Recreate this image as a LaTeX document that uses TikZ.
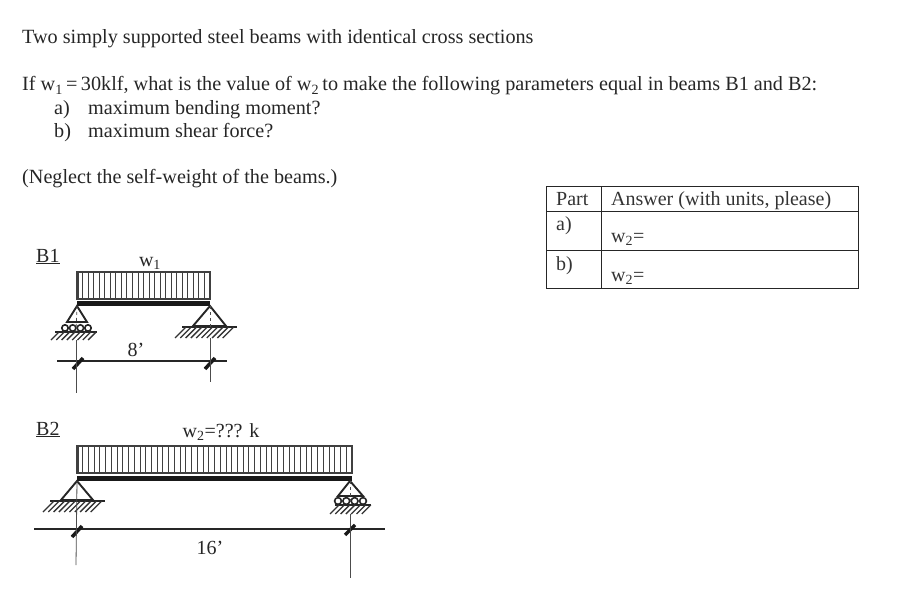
\documentclass[tikz,border=0pt]{standalone}
\usepackage{fontspec}
\setmainfont{Liberation Serif}
\newcommand{\wsub}[1]{w\textsubscript{#1}}
\tikzset{
  txt/.style={anchor=base west,inner sep=0pt,text=black!85,font=\fontsize{20.2}{23}\selectfont},
  lbl/.style={anchor=base,inner sep=0pt,text=black!85,font=\fontsize{20}{23}\selectfont},
  tbl/.style={anchor=base west,inner sep=0pt,text=black!80,font=\fontsize{20}{23}\selectfont},
  tline/.style={draw=black!85,line width=1pt},
  load/.style={draw=black!75,line width=0.9pt},
  beamline/.style={draw=black!90,line width=5pt},
  sup/.style={draw=black!85,line width=1.9pt},
  ground/.style={draw=black!85,line width=1.8pt},
  hatchline/.style={draw=black!80,line width=1.3pt},
  dim/.style={draw=black!85,line width=1.3pt},
  ext/.style={draw=black!70,line width=0.8pt},
  tick/.style={draw=black!90,line width=3.5pt},
  roller/.style={draw=black!85,line width=1.6pt,fill=white}
}
% x1, x2, ground y, hatch depth
\newcommand{\gnd}[4]{%
  \draw[ground] (#1,#3) -- (#2,#3);
  \pgfmathtruncatemacro{\nh}{(#2-#1-4)/5.3}
  \foreach \k in {0,...,\nh}{%
    \pgfmathsetmacro{\hx}{#1+4+5.3*\k}
    \draw[hatchline] (\hx,#3) -- (\hx-#4,#3+#4);
  }
}
% x1, x2, top, bottom, count of inner lines
\newcommand{\loadblock}[5]{%
  \draw[load,line width=1.3pt] (#1,#4) -- (#1,#3) -- (#2,#3) -- (#2,#4) -- cycle;
  \draw[load,line width=1.6pt] (#1+1,#3) -- (#1+1,#4);
  \foreach \i in {1,...,#5}{%
    \pgfmathsetmacro{\xx}{#1+(#2-#1)*\i/(#5+1)}
    \draw[load] (\xx,#3) -- (\xx,#4);
  }
}
\begin{document}
\begin{tikzpicture}[x=1pt,y=-1pt]
\useasboundingbox (0,0) rectangle (899,604);
% question text
\node[txt] (t1) at (22,44) {Two simply supported steel beams with identical cross sections};
\node[txt] (t2) at (22,91) {If \wsub{1}\,=\,30klf, what is the value of \wsub{2}\,to make the following parameters equal in beams B1 and B2:};
\node[txt] (t3) at (54,115) {\makebox[34pt][l]{a)}maximum bending moment?};
\node[txt] (t4) at (54,138) {\makebox[34pt][l]{b)}maximum shear force?};
\node[txt] (t5) at (22,184) {(Neglect the self-weight of the beams.)};
% table
\draw[tline] (546,187) rectangle (858,288);
\draw[tline] (546,211) -- (858,211);
\draw[tline] (546,250) -- (858,250);
\draw[tline] (601,187) -- (601,288);
\node[tbl] (p) at (556,206) {Part};
\node[tbl] (ans) at (611,206) {Answer (with units, please)};
\node[tbl] (pa) at (556,230) {a)};
\node[tbl] (pb) at (556,270) {b)};
\node[tbl] (wa) at (611,242) {\wsub{2}=};
\node[tbl] (wb) at (611,281) {\wsub{2}=};
% B1
\node[lbl,anchor=base west] (b1) at (36,262) {\underline{B1}};
\node[lbl] (w1) at (150,266) {\wsub{1}};
\loadblock{77}{210}{272}{299}{23}
\draw[beamline] (77,303.5) -- (210,303.5);
\coordinate (a1) at (77,306);
\coordinate (a2) at (210,306);
\draw[sup] (a1) -- (67,322) -- (87,322) -- cycle;
\foreach \c in {65,72.7,80.4,88}{\draw[roller] (\c,328) circle (3.2);}
\gnd{55}{97}{332}{8}
\draw[sup] (a2) -- (193,326) -- (226,326) -- cycle;
\gnd{182}{237}{327}{11}
\coordinate (d1l) at (57,361);
\coordinate (d1r) at (227,361);
\draw[dim] (d1l) -- (d1r);
\node[lbl] (s8) at (136,356) {8’};
\draw[tick] (73,369) -- (83,358);
\draw[tick] (205,369) -- (215,358);
\draw[ext,dashed] (a1) -- (76,332);
\draw[ext] (76,340) -- (76,393);
\draw[ext,dashed] (a2) -- (210,327);
\draw[ext] (210,338) -- (210,382);
% B2
\node[lbl,anchor=base west] (b2) at (36,435) {\underline{B2}};
\node[lbl] (w2) at (221,437) {\wsub{2}=??? k};
\loadblock{77}{352}{446}{473}{47}
\draw[beamline] (77,478.5) -- (352,478.5);
\coordinate (a3) at (77,481);
\coordinate (a4) at (350,481);
\draw[sup] (a3) -- (61,500) -- (93,500) -- cycle;
\gnd{50}{105}{501}{11}
\draw[sup] (a4) -- (338,496) -- (363,496) -- cycle;
\foreach \c in {338,346.3,354.6,363}{\draw[roller] (\c,501) circle (3.4);}
\gnd{335}{371}{505}{9}
\coordinate (d2l) at (34,529);
\coordinate (d2r) at (385,529);
\draw[dim] (d2l) -- (d2r);
\node[lbl] (s16) at (210,554) {16’};
\draw[tick] (72,537) -- (82,526);
\draw[tick] (345,535) -- (355,525);
\draw[ext] (a3) -- (76,565);
\draw[ext,dashed] (a4) -- (350,505);
\draw[ext] (350,514) -- (350,578);
\end{tikzpicture}
\end{document}
